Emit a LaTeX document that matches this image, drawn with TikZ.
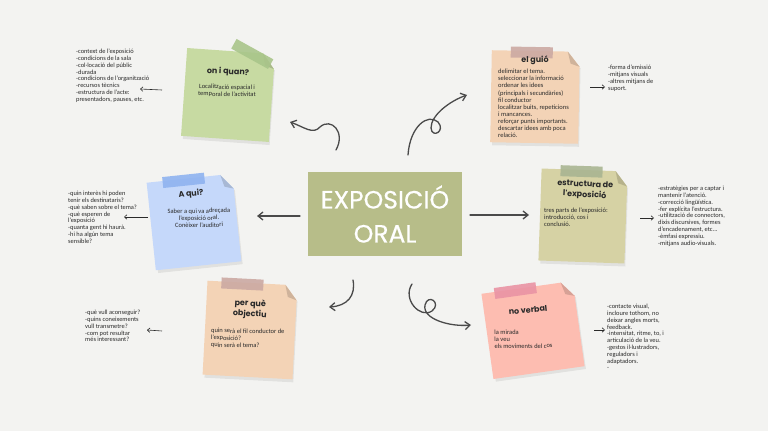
\documentclass[tikz,border=0pt]{standalone}
\usepackage{fontspec}
\setmainfont{Carlito}
\newfontfamily\titlefont{Poppins}
\newfontfamily\temafont[FakeBold=0.6]{Poppins}
\usetikzlibrary{arrows.meta}

\definecolor{paper}{HTML}{F3F3F1}
\definecolor{ink}{HTML}{2A2A2A}
\definecolor{temagreen}{HTML}{B7BD89}
\definecolor{qgreen}{HTML}{C7DAA2}
\definecolor{qgreentape}{HTML}{A9C58A}
\definecolor{qpeach}{HTML}{F3D3B6}
\definecolor{qpeachtape}{HTML}{CCA9A3}
\definecolor{qblue}{HTML}{C5D8FA}
\definecolor{qbluetape}{HTML}{8FB3F0}
\definecolor{qkhaki}{HTML}{D6D2A4}
\definecolor{qkhakitape}{HTML}{A9B592}
\definecolor{qpink}{HTML}{FDBDB1}
\definecolor{qpinktape}{HTML}{EA93A4}

% paper: name, centre, angle, fill, tape, tape x, tape angle, width, height
\newcommand\postit[9]{%
    \begin{scope}[shift={(#2)}, rotate=#3]
        \coordinate (#1) at (0,0);
        \fill[black, opacity=0.07] (-#8/2+2,-#9/2-3) rectangle (#8/2+1,#9/2-16);
        \fill[#4] (-#8/2,-#9/2) -- (-#8/2,#9/2) -- (#8/2-12,#9/2) -- (#8/2,#9/2-15) -- (#8/2,-#9/2) -- cycle;
        \fill[#4!85!black] (#8/2-12,#9/2) -- (#8/2,#9/2-15) -- (#8/2-9,#9/2-12) -- cycle;
        \fill[#5, opacity=0.9, rotate around={#7:(#6,#9/2)}] (#6-21,#9/2-7) rectangle (#6+21,#9/2+4);
    \end{scope}}

\tikzset{
    tema/.style={fill=temagreen, text=white, minimum width=154pt, minimum height=84pt,
        align=center, font=\temafont\fontsize{25}{34}\selectfont},
    notetext/.style={anchor=north west, align=left, inner sep=0pt, text=ink,
        font=\fontsize{6.4}{6.8}\selectfont},
    notetitle/.style={align=center, inner sep=0pt, text=ink,
        font=\titlefont\bfseries\fontsize{8}{10.5}\selectfont},
    notebody/.style={inner sep=0pt, text=ink, font=\fontsize{6.5}{7.1}\selectfont},
    tip/.style={-{Straight Barb[length=2.5pt,width=4.5pt]}, line width=0.6pt, draw=ink},
    bigtip/.style={-{Straight Barb[length=5pt,width=8pt]}, line width=1.3pt, draw=ink!85, line cap=round}
}

\begin{document}
\begin{tikzpicture}[x=1pt, y=1pt]

    \fill[paper] (0,0) rectangle (768,431);
    \useasboundingbox (0,0) rectangle (768,431);

    \node[tema] (tema) at (385,217) {EXPOSICIÓ\\ORAL};

    % big arrows round the theme
    \coordinate (ulS) at (336,281);  \coordinate (ulE) at (290,309);
    \coordinate (urS) at (408,276);  \coordinate (urE) at (467,336);
    \coordinate (lS)  at (300,215);  \coordinate (lE)  at (257,215);
    \coordinate (rS)  at (470,216);  \coordinate (rE)  at (529,216);
    \coordinate (dlS) at (353,151);  \coordinate (dlE) at (329,124);
    \coordinate (drS) at (412,147);  \coordinate (drE) at (471,106);

    \draw[bigtip] (ulS) .. controls (346,299) and (331,314) .. (320,304) .. controls (313,296) and (304,304) .. (ulE);
    \draw[bigtip] (urS) .. controls (410,305) and (428,318) .. (438,309) .. controls (446,300) and (432,292) .. (431,303) .. controls (431,316) and (450,330) .. (urE);
    \draw[bigtip] (lS) -- (lE);
    \draw[bigtip] (rS) -- (rE);
    \draw[bigtip] (dlS) .. controls (356,135) and (347,125) .. (dlE);
    \draw[bigtip] (drS) .. controls (402,132) and (420,112) .. (432,120) .. controls (442,128) and (428,138) .. (425,126) .. controls (422,112) and (450,104) .. (drE);

    % notes
    \postit{onquan}{228,336}{-4}{qgreen}{qgreentape}{22}{-25}{88}{88}
    \postit{guio}{535,334}{-1}{qpeach}{qpeachtape}{-4}{0}{88}{92}
    \postit{aqui}{194,209}{6}{qblue}{qbluetape}{-6}{0}{86}{88}
    \postit{estruct}{583,215}{-2}{qkhaki}{qkhakitape}{-3}{0}{86}{92}
    \postit{perque}{250,101}{-3}{qpeach}{qpeachtape}{-10}{0}{90}{94}
    \postit{noverbal}{533,101}{8}{qpink}{qpinktape}{-12}{0}{92}{86}

    \node[notetitle, rotate=-3] (onquanT) at (228,359) {on i quan?};
    \node[notebody, align=center, rotate=-1] (onquanB) at (227,340) {Localització espacial i\\temporal de l'activitat};

    \node[notetitle] (guioT) at (535,371) {el guió};
    \node[notebody, align=left, anchor=north west] (guioB) at (498,362) {delimitar el tema.\\seleccionar la informació\\ordenar les idees\\(principals i secundàries)\\fil conductor\\localitzar buits, repeticions\\i mancances.\\reforçar punts importants.\\descartar idees amb poca\\relació.};

    \node[notetitle, rotate=6] (aquiT) at (191,237) {A qui?};
    \node[notebody, align=center, rotate=1] (aquiB) at (199,213) {Saber a qui va adreçada\\l'exposició oral.\\Conèixer l'auditori};

    \node[notetitle, rotate=-3] (estructT) at (585,241) {estructura de\\l'exposició};
    \node[notebody, align=left, anchor=north west] (estructB) at (544,223) {tres parts de l'exposició:\\introducció, cos i\\conclusió.};

    \node[notetitle, rotate=-3] (perqueT) at (250,122) {per què\\objectiu};
    \node[notebody, align=left, anchor=north west, rotate=-1] (perqueB) at (211,103) {quin serà el fil conductor de\\l'exposició?\\quin serà el tema?};

    \node[notetitle, rotate=6] (noverbalT) at (528,121) {no verbal};
    \node[notebody, align=left, anchor=north west, rotate=1] (noverbalB) at (494,101) {la mirada\\la veu\\els moviments del cos};

    % side texts
    \node[notetext] (ltop) at (76,382) {-context de l'exposició\\-condicions de la sala\\-col·locació del públic\\-durada\\-condicions de l'organització\\-recursos tècnics\\-estructura de l'acte:\\presentadors, pauses, etc.};
    \node[notetext] (rtop) at (608,366) {-forma d'emissió\\-mitjans visuals\\-altres mitjans de\\suport.};
    \node[notetext] (rmid) at (658,245) {-estratègies per a captar i\\mantenir l'atenció.\\-correcció lingüística.\\-fer explícita l'estructura.\\-utilització de connectors,\\dixis discursives, formes\\d'encadenament, etc...\\-èmfasi expressiu.\\-mitjans audio-visuals.};
    \node[notetext] (lmid) at (68,240) {-quin interès hi poden\\tenir els destinataris?\\-què saben sobre el tema?\\-què esperen de\\l'exposició\\-quanta gent hi haurà.\\-hi ha algún tema\\sensible?};
    \node[notetext] (lbot) at (85,121) {-què vull aconseguir?\\-quins coneixements\\vull transmetre?\\-com pot resultar\\més interessant?};
    \node[notetext] (rbot) at (607,127) {-contacte visual,\\incloure tothom, no\\deixar angles morts,\\feedback.\\-intensitat, ritme, to, i\\articulació de la veu.\\-gestos il·lustradors,\\reguladors i\\adaptadors.\\-};

    % small arrows to the side texts
    \foreach \n/\xa/\ya/\xb/\yb in {1/162/341/140/342, 2/590/344/605/344, 3/640/213/654/213,
                                    4/148/214/124/214, 5/162/100/147/101, 6/594/101/605/101}{
        \coordinate (s\n) at (\xa,\ya);
        \coordinate (e\n) at (\xb,\yb);
        \draw[tip] (s\n) -- (e\n);
    }

\end{tikzpicture}
\end{document}
